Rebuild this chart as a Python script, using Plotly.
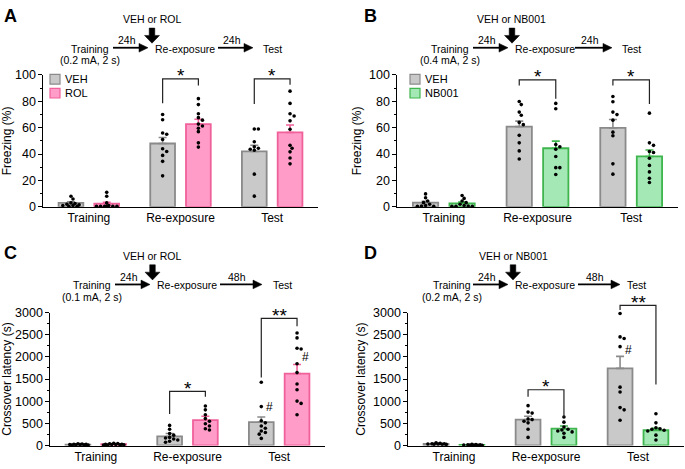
import plotly.graph_objects as go

W, H = 685, 469
FONT = "Arial, Liberation Sans, sans-serif"

categories = ["Training", "Re-exposure", "Test"]

# A: freezing (%), VEH vs ROL
a_veh_mean = [3.0, 48.0, 42.0]
a_veh_sem = [0.8, 4.6, 4.7]
a_rol_mean = [2.5, 62.7, 56.4]
a_rol_sem = [0.9, 3.7, 5.6]
a_veh_pts = [[8, 6, 3, 2.5, 2, 1.5, 1, 1, 0.5, 0.5],
             [70, 66, 56, 55, 51, 44, 42, 39, 34.5, 23.5],
             [59, 59, 49.3, 45.6, 44.4, 43.6, 42.9, 24.8, 8.1]]
a_rol_pts = [[11, 8, 3, 1, 0.5, 0.5, 0.5, 0.5, 0.5, 0.5],
             [82, 77.5, 70.6, 67.6, 65.7, 62.7, 61.3, 59.6, 57, 48.5, 45.3],
             [87.7, 78.4, 70.6, 68.9, 65.2, 58.8, 46.6, 44.4, 41.7, 37, 32.6]]

# B: freezing (%), VEH vs NB001
b_veh_mean = [3.2, 60.8, 59.8]
b_veh_sem = [1.0, 4.2, 6.4]
b_nb_mean = [2.7, 44.4, 38.2]
b_nb_sem = [0.9, 5.4, 4.9]
b_veh_pts = [[9.8, 6.9, 4.4, 3.2, 2, 1, 0.7, 0.5, 0.5],
             [79.9, 77.5, 71.8, 69.4, 64, 62.3, 54.2, 48.5, 42.4, 36.3],
             [83.6, 79.7, 71.8, 69.9, 65.7, 56.6, 53.9, 32.6, 24.8]]
b_nb_pts = [[8.6, 6.4, 4.4, 3.2, 2, 1, 0.7, 0.5, 0.5, 0.5],
            [78.4, 74.3, 47.3, 45.6, 43.6, 38.2, 29.7, 29.7, 24.5],
            [71, 48.5, 46.6, 41.9, 41.2, 36.8, 31.4, 26.5, 21.6, 18.4]]

# C: crossover latency (s), VEH vs ROL
c_veh_mean = [22, 205, 527]
c_veh_sem = [3, 65, 117]
c_rol_mean = [28, 571, 1624]
c_rol_sem = [4, 88, 205]
c_veh_pts = [[40, 35, 30, 25, 20, 20, 15, 15, 10, 10],
             [454, 366, 271, 234, 183, 168, 146, 124, 95, 73],
             [1427, 878, 560, 512, 439, 388, 329, 293, 256, 161]]
c_rol_pts = [[50, 45, 40, 30, 25, 20, 20, 15, 15, 10, 10],
             [893, 805, 695, 607, 549, 490, 439, 380, 351],
             [2539, 2429, 2195, 2180, 1844, 1646, 1390, 1259, 1002, 951, 695]]

# D: crossover latency (s), VEH vs NB001
d_veh_mean = [38, 585, 1741]
d_veh_sem = [4, 74, 271]
d_nb_mean = [14, 380, 344]
d_nb_sem = [2, 59, 44]
d_veh_pts = [[60, 50, 40, 40, 35, 35, 30, 30, 25],
             [900, 754, 732, 600, 585, 549, 512, 366, 183],
             [2978, 2451, 2415, 2232, 1317, 1207, 856, 805, 571]]
d_nb_pts = [[25, 20, 15, 15, 10, 10, 10, 5, 5],
            [644, 527, 417, 366, 351, 329, 307, 278, 183],
            [717, 512, 402, 380, 366, 344, 329, 234, 124]]

# significance brackets: (category, top, left end, right end, label)
a_sig = [(1, 97, 78.5, 92, "*"), (2, 97, 78, 92.6, "*")]
b_sig = [(1, 96.3, 91.9, 82, "*"), (2, 96.3, 91.9, 78, "*")]
c_sig = [(1, 1222, 710, 1098, "*"), (2, 2868, 1537, 2693, "**")]
d_sig = [(1, 1259, 1098, 637, "*"), (2, 3161, 3058, 1376, "**")]
# '#' marks: (category, group 0=VEH 1=drug, value)
c_hash = [(2, 0, 878), (2, 1, 1990)]
d_hash = [(2, 0, 2158)]

GRAY = ("#c9c9c9", "#8a8a8a")
PINK = ("#ff9dc8", "#f0609a")
GREEN = ("#a3e8b5", "#3fb54d")

panels = [
    dict(tag="A", box=(43, 318, 70, 206), xr=[-0.5, 2.5], yr=[0, 100], dt=20,
         title="Freezing (%)", drug="ROL", col=PINK,
         means=(a_veh_mean, a_rol_mean), sems=(a_veh_sem, a_rol_sem),
         pts=(a_veh_pts, a_rol_pts), sig=a_sig, hashes=[], legend=True,
         tl=dict(txt="VEH or ROL", shock="(0.2 mA, 2 s)", h=("24h", "24h"),
                 xt=90, a1=(113, 148), xd=152, xr=185, a2=(218, 253), xs=272, y=43)),
    dict(tag="B", box=(397, 678, 70, 206), xr=[-0.5, 2.5], yr=[0, 100], dt=20,
         title="Freezing (%)", drug="NB001", col=GREEN,
         means=(b_veh_mean, b_nb_mean), sems=(b_veh_sem, b_nb_sem),
         pts=(b_veh_pts, b_nb_pts), sig=b_sig, hashes=[], legend=True,
         tl=dict(txt="VEH or NB001", shock="(0.4 mA, 2 s)", h=("24h", "24h"),
                 xt=450, a1=(473, 508), xd=512, xr=545, a2=(575, 612), xs=631, y=43)),
    dict(tag="C", box=(50, 325, 315, 452), xr=[-0.5, 2.5], yr=[0, 3000], dt=500,
         title="Crossover latency (s)", drug="ROL", col=PINK,
         means=(c_veh_mean, c_rol_mean), sems=(c_veh_sem, c_rol_sem),
         pts=(c_veh_pts, c_rol_pts), sig=c_sig, hashes=c_hash, legend=False,
         tl=dict(txt="VEH or ROL", shock="(0.1 mA, 2 s)", h=("24h", "48h"),
                 xt=92, a1=(115, 150), xd=152.5, xr=187, a2=(220, 262), xs=282, y=287)),
    dict(tag="D", box=(408, 684, 315, 452), xr=[-0.5, 2.5], yr=[0, 3000], dt=500,
         title="Crossover latency (s)", drug="NB001", col=GREEN,
         means=(d_veh_mean, d_nb_mean), sems=(d_veh_sem, d_nb_sem),
         pts=(d_veh_pts, d_nb_pts), sig=d_sig, hashes=d_hash, legend=False,
         tl=dict(txt="VEH or NB001", shock="(0.2 mA, 2 s)", h=("24h", "48h"),
                 xt=452, a1=(473, 508), xd=513, xr=545, a2=(578, 620), xs=636, y=287)),
]

OFF = 0.195
BW = 0.27


def px(x, y):
    return x / W, 1 - y / H


def swarm(vals, ppx, ppy, d=3.4, cap=11.0):
    # simple beeswarm: push overlapping dots sideways, but stay within the bar
    placed, offs = [], []
    cands = [0.0]
    step = d * 0.6
    i = 1
    while i * step <= cap:
        cands += [i * step, -i * step]
        i += 1
    for v in vals:
        y = v * ppy
        best, best_d = 0.0, -1
        for c in cands:
            md = min([(c - a) ** 2 + (y - b) ** 2 for a, b in placed] or [1e9])
            if md >= d * d:
                best = c
                break
            if md > best_d:
                best, best_d = c, md
        placed.append((best, y))
        offs.append(best / ppx)
    return offs


fig = go.Figure()
shapes, annos = [], []
layout_axes = {}

for n, p in enumerate(panels):
    sfx = "" if n == 0 else str(n + 1)
    xa, ya = "x" + sfx, "y" + sfx
    x0, x1, yt, yb = p["box"]
    ppx = (x1 - x0) / (p["xr"][1] - p["xr"][0])
    ppy = (yb - yt) / (p["yr"][1] - p["yr"][0])

    def yp(v, p=p, yt=yt, yb=yb):
        return 1 - (yb - (v - p["yr"][0]) / (p["yr"][1] - p["yr"][0]) * (yb - yt)) / H

    for g, (fill, line) in enumerate([GRAY, p["col"]]):
        sgn = -1 if g == 0 else 1
        xs = [i + sgn * OFF for i in range(len(categories))]
        fig.add_trace(go.Bar(
            x=xs, y=p["means"][g], width=BW, xaxis=xa, yaxis=ya,
            marker=dict(color=fill, line=dict(color=line, width=1.8)),
            error_y=dict(type="data", symmetric=False, array=p["sems"][g],
                         arrayminus=[0] * 3, color=line, thickness=1.6, width=4),
            showlegend=False))
        dx, dy = [], []
        for i, vals in enumerate(p["pts"][g]):
            offs = swarm(vals, ppx, ppy)
            dx += [xs[i] + o for o in offs]
            dy += vals
        fig.add_trace(go.Scatter(
            x=dx, y=dy, mode="markers", xaxis=xa, yaxis=ya, cliponaxis=False,
            marker=dict(color="black", size=3.6), showlegend=False))

    layout_axes["xaxis" + sfx] = dict(
        domain=[x0 / W, x1 / W], range=p["xr"], anchor=ya,
        tickvals=list(range(len(categories))), ticktext=categories,
        ticks="", showline=True, linecolor="black", linewidth=1.2,
        showgrid=False, zeroline=False, tickfont=dict(size=12, color="black"))
    layout_axes["yaxis" + sfx] = dict(
        domain=[1 - yb / H, 1 - yt / H], range=p["yr"], anchor=xa, dtick=p["dt"],
        ticks="outside", ticklen=3.5, tickwidth=1.2, tickcolor="black",
        minor=dict(dtick=p["dt"] / 2, ticks="outside", ticklen=2, tickcolor="black"),
        showline=True, linecolor="black", linewidth=1.2, showgrid=False,
        zeroline=False, tickfont=dict(size=12.5, color="black"),
        title=dict(text=p["title"], font=dict(size=12, color="black"), standoff=4))

    # significance brackets and stars
    for cat, top, yl, yr_, lab in p["sig"]:
        xl, xr = cat - OFF, cat + OFF
        shapes.append(dict(
            type="path", xref=xa, yref="paper",
            path=f"M{xl},{yp(yl)} L{xl},{yp(top)} L{xr},{yp(top)} L{xr},{yp(yr_)}",
            line=dict(color="#222", width=1.2)))
        annos.append(dict(x=cat, y=yp(top), xref=xa, yref="paper", text=lab,
                          showarrow=False, yanchor="middle", yshift=3,
                          font=dict(size=19, color="black")))
    for cat, g, v in p["hashes"]:
        annos.append(dict(x=cat + (OFF if g else -OFF) + 0.09, y=v, xref=xa, yref=ya,
                          text="#", showarrow=False, xanchor="center",
                          font=dict(size=12, color="black")))

    # panel letter
    lx, ly = (2 if x0 < 200 else 362), (9 if yt < 200 else 254)
    annos.append(dict(x=lx / W, y=1 - ly / H, xref="paper", yref="paper",
                      text="<b>" + p["tag"] + "</b>", showarrow=False,
                      xanchor="left", yanchor="middle", font=dict(size=18, color="black")))

    # manual legend
    if p["legend"]:
        lx0 = x0 + 7 if x0 < 200 else 410
        for k, (name, (fill, line)) in enumerate([("VEH", GRAY), (p["drug"], p["col"])]):
            ty = 69.5 + k * 14.3
            a0, b0 = px(lx0, ty)
            a1, b1 = px(lx0 + 10, ty + 10)
            shapes.append(dict(type="rect", xref="paper", yref="paper",
                               x0=a0, y0=b1, x1=a1, y1=b0, fillcolor=fill,
                               line=dict(color=line, width=1.2)))
            tx, tyy = px(lx0 + 13, ty + 5)
            annos.append(dict(x=tx, y=tyy, xref="paper", yref="paper", text=name,
                              showarrow=False, xanchor="left", yanchor="middle",
                              font=dict(size=11, color="black")))

    # timeline above the panel
    t = p["tl"]
    ry = t["y"]
    for txt, xx, yy in [(t["txt"], t["xd"], ry - 30.7), ("Training", t["xt"], ry),
                        (t["shock"], t["xt"], ry + 11.5), ("Re-exposure", t["xr"], ry),
                        ("Test", t["xs"], ry),
                        (t["h"][0], sum(t["a1"]) / 2 - 4, ry - 8.6),
                        (t["h"][1], sum(t["a2"]) / 2 - 4, ry - 8.6)]:
        a, b = px(xx, yy)
        annos.append(dict(x=a, y=b, xref="paper", yref="paper", text=txt,
                          showarrow=False, xanchor="center", yanchor="middle",
                          font=dict(size=10.5, color="black")))
    for (ax0, ax1) in [t["a1"], t["a2"]]:
        a, b = px(ax0, ry - 1)
        c, d = px(ax1 - 8, ry - 1)
        shapes.append(dict(type="line", xref="paper", yref="paper", x0=a, y0=b,
                           x1=c, y1=d, line=dict(color="black", width=1.8)))
        p1, p2, p3 = px(ax1 - 9, ry - 5.5), px(ax1, ry - 1), px(ax1 - 9, ry + 3.5)
        shapes.append(dict(type="path", xref="paper", yref="paper",
                           path=f"M{p1[0]},{p1[1]} L{p2[0]},{p2[1]} L{p3[0]},{p3[1]} Z",
                           fillcolor="black", line=dict(color="black", width=0.5)))
    xd = t["xd"]
    pts = [(xd - 2.8, ry - 21.3), (xd + 2.8, ry - 21.3), (xd + 2.8, ry - 13.7),
           (xd + 7.5, ry - 13.7), (xd, ry - 5.7), (xd - 7.5, ry - 13.7),
           (xd - 2.8, ry - 13.7)]
    pp = [px(a, b) for a, b in pts]
    shapes.append(dict(type="path", xref="paper", yref="paper",
                       path="M" + " L".join(f"{a},{b}" for a, b in pp) + " Z",
                       fillcolor="black", line=dict(color="black", width=0.5)))

fig.update_layout(
    width=W, height=H, margin=dict(l=0, r=0, t=0, b=0),
    plot_bgcolor="white", paper_bgcolor="white",
    font=dict(family=FONT, color="black"),
    barmode="overlay", showlegend=False,
    shapes=shapes, annotations=annos, **layout_axes)

# page body has a default 8px margin; drop it so the figure sits at (0, 0)
fig.write_html("out.html", config={"displayModeBar": False},
               post_script="document.body.style.margin='0';")
